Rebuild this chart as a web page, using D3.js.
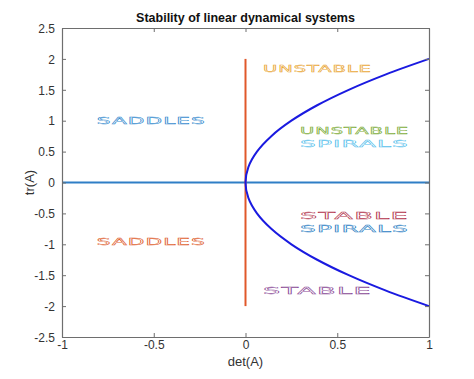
<!DOCTYPE html>
<html><head><meta charset="utf-8">
<script src="https://cdn.jsdelivr.net/npm/d3@7"></script>
<style>body{margin:0;background:#fff}svg{display:block}</style>
</head><body>
<script>
const xTicks = [-1, -0.5, 0, 0.5, 1];
const yTicks = [-2.5, -2, -1.5, -1, -0.5, 0, 0.5, 1, 1.5, 2, 2.5];
const xTickLabels = ["-1", "-0.5", "0", "0.5", "1"];
const yTickLabels = ["-2.5", "-2", "-1.5", "-1", "-0.5", "0", "0.5", "1", "1.5", "2", "2.5"];
// boundary curve det = tr^2/4 (sampled values)
const curveTr  = [-2, -1.75, -1.5, -1.25, -1, -0.75, -0.5, -0.25, 0, 0.25, 0.5, 0.75, 1, 1.25, 1.5, 1.75, 2];
const curveDet = [1, 0.7656, 0.5625, 0.3906, 0.25, 0.1406, 0.0625, 0.0156, 0, 0.0156, 0.0625, 0.1406, 0.25, 0.3906, 0.5625, 0.7656, 1];
const hLineDet = [-1, 1];
const hLineTr = [0, 0];
const vLineDet = [0, 0];
const vLineTr = [-2, 2];
const labelText = ["SADDLES", "SADDLES", "UNSTABLE", "UNSTABLE", "SPIRALS", "STABLE", "SPIRALS", "STABLE"];
const labelDet  = [-0.81, -0.81, 0.095, 0.297, 0.297, 0.297, 0.297, 0.095];
const labelTr   = [1.0, -0.97, 1.83, 0.84, 0.63, -0.54, -0.76, -1.76];
const labelColor = ["#3a8ed0", "#e0622f", "#eaa93a", "#7fae3c", "#56c0ec", "#b2314a", "#2a80c4", "#8a4796"];

const W = 474, H = 379;
const m = {left: 62, right: 45, top: 28, bottom: 42};
const svg = d3.select("body").append("svg").attr("width", W).attr("height", H);
const x = d3.scaleLinear().domain([-1, 1]).range([m.left, W - m.right]);
const y = d3.scaleLinear().domain([-2.5, 2.5]).range([H - m.bottom, m.top]);

const axisColor = "#6e6e6e";
const font = "'Liberation Sans', Arial, sans-serif";

// data lines
const line = d3.line().x(d => x(d[0])).y(d => y(d[1]));
svg.append("path").datum(hLineDet.map((d, i) => [d, hLineTr[i]]))
  .attr("d", line).attr("stroke", "#2f7ec6").attr("stroke-width", 2).attr("fill", "none");
svg.append("path").datum(vLineDet.map((d, i) => [d, vLineTr[i]]))
  .attr("d", line).attr("stroke", "#e0582a").attr("stroke-width", 2).attr("fill", "none");
svg.append("path").datum(curveDet.map((d, i) => [d, curveTr[i]]))
  .attr("d", line.curve(d3.curveCatmullRom.alpha(0.5)))
  .attr("stroke", "#1a1ae0").attr("stroke-width", 2).attr("fill", "none");

// axes (box with inward ticks)
const tl = 4;
const gB = svg.append("g").attr("transform", `translate(0,${y(-2.5)})`)
  .call(d3.axisBottom(x).tickValues(xTicks).tickFormat((d, i) => xTickLabels[i]).tickSizeInner(-tl).tickSizeOuter(0).tickPadding(5));
const gT = svg.append("g").attr("transform", `translate(0,${y(2.5)})`)
  .call(d3.axisTop(x).tickValues(xTicks).tickFormat("").tickSizeInner(-tl).tickSizeOuter(0));
const gL = svg.append("g").attr("transform", `translate(${x(-1)},0)`)
  .call(d3.axisLeft(y).tickValues(yTicks).tickFormat((d, i) => yTickLabels[i]).tickSizeInner(-tl).tickSizeOuter(0).tickPadding(7));
const gR = svg.append("g").attr("transform", `translate(${x(1)},0)`)
  .call(d3.axisRight(y).tickValues(yTicks).tickFormat("").tickSizeInner(-tl).tickSizeOuter(0));
[gB, gT, gL, gR].forEach(g => {
  g.select(".domain").attr("stroke", axisColor).attr("stroke-width", 1.2);
  g.selectAll(".tick line").attr("stroke", axisColor);
  g.selectAll("text").attr("font-family", font).attr("font-size", 12).attr("fill", "#333");
});
gL.selectAll("text").attr("dy", "0.35em");
gB.selectAll("text").attr("dy", "0.6em");

// labels: wide thin outlined lettering, stretched horizontally to ~108px
const targetW = 109;
labelText.forEach((t, i) => {
  const g = svg.append("g").attr("transform", `translate(${x(labelDet[i])},${y(labelTr[i])})`);
  const tx = g.append("text")
    .attr("dy", "0.35em").attr("letter-spacing", 0.4)
    .attr("font-family", "'DejaVu Sans', sans-serif").attr("font-size", 8.5)
    .attr("fill", "none").attr("stroke", labelColor[i]).attr("stroke-width", 0.75)
    .attr("vector-effect", "non-scaling-stroke")
    .text(t);
  const w = tx.node().getComputedTextLength();
  tx.attr("transform", `scale(${targetW / w},1)`);
});

// titles
svg.append("text").attr("x", (x(-1) + x(1)) / 2).attr("y", 22).attr("text-anchor", "middle")
  .attr("font-family", font).attr("font-weight", "bold").attr("font-size", 12.5).attr("fill", "#111")
  .text("Stability of linear dynamical systems");
svg.append("text").attr("x", (x(-1) + x(1)) / 2).attr("y", 366).attr("text-anchor", "middle")
  .attr("font-family", font).attr("font-size", 13).attr("fill", "#333").text("det(A)");
svg.append("text").attr("transform", `translate(34,${y(0)}) rotate(-90)`).attr("text-anchor", "middle")
  .attr("font-family", font).attr("font-size", 13).attr("fill", "#333").text("tr(A)");
</script>
</body></html>
